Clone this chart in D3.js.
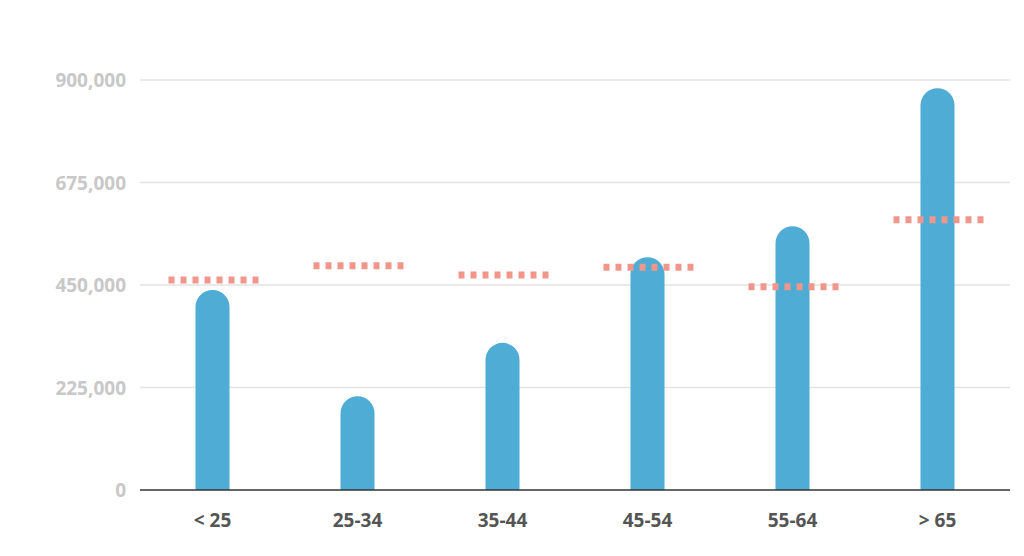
<!DOCTYPE html>
<html><head><meta charset="utf-8">
<script src="https://cdn.jsdelivr.net/npm/d3@7"></script>
<style>body{margin:0;background:#fff}</style></head>
<body><svg id="c" width="1024" height="556"></svg>
<script>
const categories = ["< 25","25-34","35-44","45-54","55-64","> 65"];
const barValues = [439000,206000,323000,511000,579000,882000];
const targetValues = [461000,492000,472000,489000,446000,593000];
const tickValues = [0,225000,450000,675000,900000];

const svg = d3.select("#c");
const m = {l:140, r:1010, t:80, b:490};
const x = d3.scaleBand().domain(categories).range([m.l, m.r]);
const y = d3.scaleLinear().domain([0,900000]).range([m.b, m.t]);
const font = "'Open Sans', Lato, sans-serif";

svg.append("g").selectAll("line").data(tickValues.slice(1)).join("line")
  .attr("x1", m.l).attr("x2", m.r).attr("y1", d=>y(d)).attr("y2", d=>y(d))
  .attr("stroke", "#e3e3e3").attr("stroke-width", 1.5);
svg.append("g").selectAll("text").data(tickValues).join("text")
  .attr("x", 126).attr("y", d=>y(d)+7).attr("text-anchor","end")
  .attr("font-family", font).attr("font-weight", 700).attr("font-size", 19)
  .attr("fill", "#c8c8c8").text(d=>d3.format(",")(d));

const bw = 34, r = bw/2;
svg.append("g").selectAll("path").data(categories).join("path")
  .attr("fill", "#4eacd5")
  .attr("d", (c,i) => {
    const cx = x(c) + x.bandwidth()/2, x0 = cx - r, x1 = cx + r;
    const top = y(barValues[i]), base = y(0);
    return `M${x0},${base}L${x0},${top+r}A${r},${r} 0 0 1 ${x1},${top+r}L${x1},${base}Z`;
  });

svg.append("line").attr("x1", m.l).attr("x2", m.r).attr("y1", y(0)).attr("y2", y(0))
  .attr("stroke", "#333").attr("stroke-width", 1.5);

svg.append("g").selectAll("line").data(categories).join("line")
  .attr("x1", c => x(c) + x.bandwidth()/2 - 44)
  .attr("x2", c => x(c) + x.bandwidth()/2 + 46)
  .attr("y1", (c,i)=>y(targetValues[i])).attr("y2", (c,i)=>y(targetValues[i]))
  .attr("stroke", "#f0968b").attr("stroke-width", 7).attr("stroke-dasharray", "6,6");

svg.append("g").selectAll("text").data(categories).join("text")
  .attr("x", c => x(c) + x.bandwidth()/2).attr("y", 527).attr("text-anchor","middle")
  .attr("font-family", font).attr("font-weight", 700).attr("font-size", 19)
  .attr("fill", "#555").text(d=>d);
</script></body></html>
